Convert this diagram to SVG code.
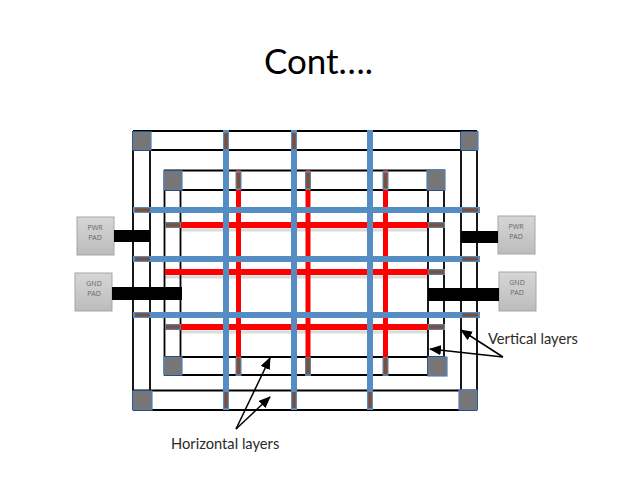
<svg xmlns="http://www.w3.org/2000/svg" width="638" height="478" viewBox="0 0 638 478">
<defs>
<linearGradient id="padg" x1="0" y1="0" x2="0" y2="1"><stop offset="0" stop-color="#d6d6d6"/><stop offset="1" stop-color="#bcbcbc"/></linearGradient>
<marker id="ah" markerWidth="12" markerHeight="10" refX="11" refY="5" orient="auto" markerUnits="userSpaceOnUse"><path d="M0 0L12 5L0 10Z" fill="#000"/></marker>
</defs>
<style>
.bk{stroke:#000;stroke-width:1.8;fill:none}
.bl{stroke:#558cc2;stroke-width:6;fill:none}
.rd{stroke:#fe0000;fill:none}
.sh{stroke:#000;stroke-opacity:.14;stroke-width:3;fill:none}
.sq{fill:#777575;stroke:#4f81bd;stroke-width:1.2}
.via{stroke:#7b4f3b;stroke-width:3.500;fill:none}
.rim{stroke:#5f7f9f;stroke-width:6;fill:none}
.pad{fill:url(#padg);stroke:#a6a6a6;stroke-width:1}
.pt{font-family:"Open Sans","Liberation Sans",sans-serif;font-size:7px;fill:#666;text-anchor:middle}
.lb{font-family:Lato,"Open Sans",sans-serif;font-size:14.700px;fill:#2a2a2a}
.ar{stroke:#000;stroke-width:1.500;fill:none;marker-end:url(#ah)}
.bar{fill:#000}
</style>
<rect width="638" height="478" fill="#fff"/>
<text x="318.500" y="74" font-family="Lato,'Open Sans',sans-serif" font-size="35" fill="#000" text-anchor="middle">Cont….</text>
<g id="connectors">
<path class="bk" d="M133 131H477M133 150H477M133 390.500H477M133 410H477M133 131V410M150 131V410M461 131V410M477 131V410"/>
<path class="bk" d="M164 170.500H445M164 190H445M164 357H445M164 375H445M164.500 170V375M180.500 170V375M428 170V375M444 170V375"/>
<path class="sh" d="M181 230H428M165 277H428M181 332H428"/>
<path class="rd" stroke-width="5" d="M238.500 170V376M308 170V376M385.500 170V376"/>
<path class="rd" stroke-width="6" d="M181 225H428M165 272H428M181 327H428"/>
<path class="bl" d="M226 130V410M294 130V410M370 130V410M133 210H480M133 259H480M133 315H480"/>
<path class="rim" d="M238.500 171V190M308 171V190M385.500 171V190M238.500 357V376M308 357V376M385.500 357V376M165 225H181M428 225H445M428 272H445M165 327H181M428 327H445"/>
<path class="via" d="M226 133V149M294 133V149M226 392V408M294 392V408M370 392V408M238.500 173V188M308 173V188M385.500 173V188M238.500 358V374M308 358V374M385.500 358V374M135 210H150M135 259H150M135 315H150M462 210H478M462 259H478M462 315H478M166 225H180M429 225H444M429 272H444M166 327H180M429 327H444"/>
<path class="ar" d="M503 357L461 330"/>
<path class="ar" d="M503 357L430 349"/>
<path class="ar" d="M236 429L270 358"/>
<path class="ar" d="M236 429L270 397"/>
</g>
<g id="corners">
<rect class="sq" x="133" y="132" width="18" height="18"/>
<rect class="sq" x="461" y="132" width="17" height="18"/>
<rect class="sq" x="133" y="391" width="19" height="19"/>
<rect class="sq" x="459" y="390" width="18" height="20"/>
<rect class="sq" x="164" y="171" width="18" height="19"/>
<rect class="sq" x="427" y="170" width="18" height="20"/>
<rect class="sq" x="164" y="357" width="18" height="18"/>
<rect class="sq" x="428" y="357" width="19" height="19"/>
</g>
<g id="pad-pwr-left"><rect class="pad" x="77" y="217" width="37" height="38"/><rect class="bar" x="114" y="230" width="36" height="12"/><text class="pt" x="95" y="230">PWR</text><text class="pt" x="95" y="240">PAD</text></g>
<g id="pad-gnd-left"><rect class="pad" x="75" y="273" width="37" height="38"/><rect class="bar" x="112" y="287" width="70" height="13"/><text class="pt" x="94" y="286">GND</text><text class="pt" x="94" y="296">PAD</text></g>
<g id="pad-pwr-right"><rect class="pad" x="498" y="216" width="37" height="38"/><rect class="bar" x="461" y="231" width="37" height="12"/><text class="pt" x="516" y="229">PWR</text><text class="pt" x="516" y="239">PAD</text></g>
<g id="pad-gnd-right"><rect class="pad" x="499" y="272" width="37" height="39"/><rect class="bar" x="428" y="288" width="71" height="13"/><text class="pt" x="517" y="285">GND</text><text class="pt" x="517" y="295">PAD</text></g>
<g id="label-vertical"><text class="lb" x="488" y="344">Vertical layers</text></g>
<g id="label-horizontal"><text class="lb" x="171" y="449">Horizontal layers</text></g>
</svg>
